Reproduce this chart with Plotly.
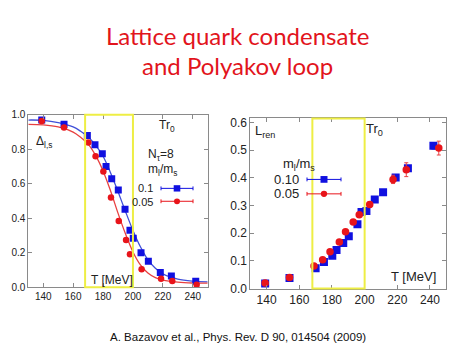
import plotly.graph_objects as go

W, H = 474, 355

# ---------------- data: left panel (Delta_l,s) ----------------
T_d_blue = [139.0, 153.9, 169.5, 174.6, 179.5, 182.0, 185.8, 190.2, 194.7, 198.0, 200.2, 205.4, 210.3, 218.3, 225.7, 242.0]
D_blue = [0.970, 0.946, 0.881, 0.827, 0.775, 0.700, 0.630, 0.564, 0.452, 0.331, 0.285, 0.201, 0.151, 0.086, 0.065, 0.035]
T_d_red = [139.0, 153.9, 170.1, 175.0, 180.2, 185.3, 190.5, 195.4, 198.0, 205.8, 218.8, 226.3, 242.6]
D_red = [0.965, 0.927, 0.840, 0.760, 0.672, 0.521, 0.384, 0.275, 0.192, 0.104, 0.049, 0.037, 0.015]

# fitted curves
T_fit = [130, 140, 150, 160, 165, 170, 175, 180, 185, 190, 195, 200, 205, 210, 215, 220, 230, 240, 250]
fit_blue = [0.970, 0.968, 0.955, 0.930, 0.905, 0.872, 0.825, 0.760, 0.665, 0.555, 0.440, 0.330, 0.235, 0.160, 0.110, 0.078, 0.048, 0.036, 0.032]
fit_red = [0.945, 0.942, 0.930, 0.900, 0.870, 0.830, 0.765, 0.675, 0.560, 0.430, 0.310, 0.205, 0.130, 0.083, 0.056, 0.042, 0.030, 0.025, 0.024]

# ---------------- data: right panel (L_ren) ----------------
T_l_blue = [139.1, 154.0, 170.0, 175.1, 180.2, 182.8, 186.9, 190.3, 195.6, 198.1, 201.1, 206.2, 211.3, 219.0, 226.5, 242.1]
L_blue = [0.018, 0.038, 0.073, 0.096, 0.118, 0.139, 0.164, 0.189, 0.232, 0.276, 0.280, 0.321, 0.348, 0.401, 0.434, 0.515]
L_blue_err = [0.002, 0.002, 0.003, 0.003, 0.003, 0.003, 0.003, 0.003, 0.004, 0.004, 0.004, 0.005, 0.005, 0.008, 0.010, 0.012]
T_l_red = [139.1, 154.0, 169.0, 174.3, 178.8, 184.5, 188.3, 193.0, 196.7, 203.1, 217.4, 225.5, 245.4]
L_red = [0.020, 0.040, 0.081, 0.104, 0.133, 0.168, 0.205, 0.240, 0.266, 0.303, 0.394, 0.429, 0.507]
L_red_err = [0.002, 0.002, 0.004, 0.004, 0.004, 0.005, 0.006, 0.008, 0.008, 0.010, 0.015, 0.025, 0.025]

x_ticks = [140, 160, 180, 200, 220, 240]
y1_ticks = [0.0, 0.2, 0.4, 0.6, 0.8, 1.0]
y2_ticks = [0.0, 0.1, 0.2, 0.3, 0.4, 0.5, 0.6]
band = [168, 200]

BLUE = "#1010e0"
RED = "#e8141a"
CBLUE = "#4050d8"
CRED = "#e84040"
YEL = "#eeee44"
AXC = "#8a8a8a"
TXT = "#222222"

fig = go.Figure()

# left panel
fig.add_trace(go.Scatter(x=T_fit, y=fit_blue, mode="lines", line=dict(color=CBLUE, width=1.3, shape="spline"),
                         xaxis="x", yaxis="y", showlegend=False, hoverinfo="skip"))
fig.add_trace(go.Scatter(x=T_fit, y=fit_red, mode="lines", line=dict(color=CRED, width=1.3, shape="spline"),
                         xaxis="x", yaxis="y", showlegend=False, hoverinfo="skip"))
fig.add_trace(go.Scatter(x=T_d_blue, y=D_blue, mode="markers", marker=dict(symbol="square", size=7, color=BLUE),
                         xaxis="x", yaxis="y", showlegend=False))
fig.add_trace(go.Scatter(x=T_d_red, y=D_red, mode="markers", marker=dict(symbol="circle", size=6.5, color=RED),
                         xaxis="x", yaxis="y", showlegend=False))

# right panel
fig.add_trace(go.Scatter(x=T_l_blue, y=L_blue, mode="markers", marker=dict(symbol="square", size=8, color=BLUE),
                         error_y=dict(type="data", array=L_blue_err, color=CBLUE, thickness=1, width=2),
                         xaxis="x2", yaxis="y2", showlegend=False))
fig.add_trace(go.Scatter(x=T_l_red, y=L_red, mode="markers", marker=dict(symbol="circle", size=7.5, color=RED),
                         error_y=dict(type="data", array=L_red_err, color=CRED, thickness=1, width=2),
                         xaxis="x2", yaxis="y2", showlegend=False))

def px(x):
    return x / W

def py(y):
    return 1 - y / H

axis_common = dict(showline=True, linecolor=AXC, linewidth=1, mirror="ticks", ticks="inside",
                   ticklen=4, tickcolor=AXC, showgrid=False, zeroline=False)

fig.update_layout(
    width=W, height=H, margin=dict(l=0, r=0, t=0, b=0),
    paper_bgcolor="white", plot_bgcolor="white",
    xaxis=dict(domain=[px(28.3), px(207.7)], range=[130, 250], tickvals=x_ticks, anchor="y",
               tickfont=dict(family="Liberation Sans, Arial", size=10, color=TXT), **axis_common),
    yaxis=dict(domain=[py(292), py(113)], range=[0, 1.0], tickvals=y1_ticks, tickformat=".1f", anchor="x",
               tickfont=dict(family="Liberation Sans, Arial", size=10, color=TXT), **axis_common),
    xaxis2=dict(domain=[px(250.3), px(446.3)], range=[130, 250], tickvals=x_ticks, anchor="y2",
                tickfont=dict(family="Liberation Sans, Arial", size=12, color=TXT), **axis_common),
    yaxis2=dict(domain=[py(293.3), py(116.7)], range=[0, 0.614], tickvals=y2_ticks, tickformat=".1f", anchor="x2",
                tickfont=dict(family="Liberation Sans, Arial", size=12, color=TXT), **axis_common),
)

# yellow bands
fig.add_shape(type="rect", xref="x", yref="y domain", x0=band[0], x1=band[1], y0=0, y1=1,
              line=dict(color=YEL, width=2), fillcolor="rgba(0,0,0,0)")
fig.add_shape(type="rect", xref="x2", yref="y2 domain", x0=band[0], x1=band[1], y0=0, y1=1,
              line=dict(color=YEL, width=2), fillcolor="rgba(0,0,0,0)")

def ann(text, x, y, size, xanchor="left", color=TXT, family="Liberation Sans, Arial"):
    fig.add_annotation(text=text, x=px(x), y=py(y), xref="paper", yref="paper", showarrow=False,
                       xanchor=xanchor, yanchor="middle", font=dict(family=family, size=size, color=color))

# title and citation
ann("Lattice quark condensate", 237, 31, 24, "center", "#e2141c", "Lato, Open Sans")
ann("and Polyakov loop", 237, 62, 24, "center", "#e2141c", "Lato, Open Sans")
ann("A. Bazavov et al., Phys. Rev. D 90, 014504 (2009)", 238, 344, 11.5, "center", "#111111")

# left panel texts
ann("Tr<sub>0</sub>", 157, 125, 12)
ann("Δ<sub>l,s</sub>", 34, 141, 12)
ann("N<sub>τ</sub>=8", 146, 155, 12)
ann("m<sub>l</sub>/m<sub>s</sub>", 146, 170, 12)
ann("0.1", 155, 189, 11, "right")
ann("0.05", 155, 203, 11, "right")
ann("T [MeV]", 112, 284, 12, "center")

# right panel texts
ann("Tr<sub>0</sub>", 364, 128, 13)
ann("L<sub>ren</sub>", 253, 130, 13)
ann("m<sub>l</sub>/m<sub>s</sub>", 281, 165, 13)
ann("0.10", 301, 180, 13, "right")
ann("0.05", 301, 195, 13, "right")
ann("T [MeV]", 413, 281, 13, "center")

# legend keys (decorative glyphs in paper coordinates)
def key(x0, x1, y, color, symbol, s):
    fig.add_shape(type="line", xref="paper", yref="paper", x0=px(x0), x1=px(x1), y0=py(y), y1=py(y),
                  line=dict(color=color, width=1))
    for xx in (x0, x1):
        fig.add_shape(type="line", xref="paper", yref="paper", x0=px(xx), x1=px(xx), y0=py(y - 2), y1=py(y + 2),
                      line=dict(color=color, width=1))
    xc = (x0 + x1) / 2
    fig.add_shape(type="rect" if symbol == "square" else "circle", xref="paper", yref="paper",
                  x0=px(xc - s), x1=px(xc + s), y0=py(y + s), y1=py(y - s),
                  line=dict(color=color, width=0), fillcolor=color)

key(161, 193, 189.3, BLUE, "square", 3.3)
key(161, 193, 202.7, RED, "circle", 3.0)
key(307, 341, 180, BLUE, "square", 3.5)
key(307, 341, 195, RED, "circle", 3.2)

fig.write_html("out.html", config={"displayModeBar": False},
               post_script="document.body.style.margin='0';document.body.style.overflow='hidden';")
